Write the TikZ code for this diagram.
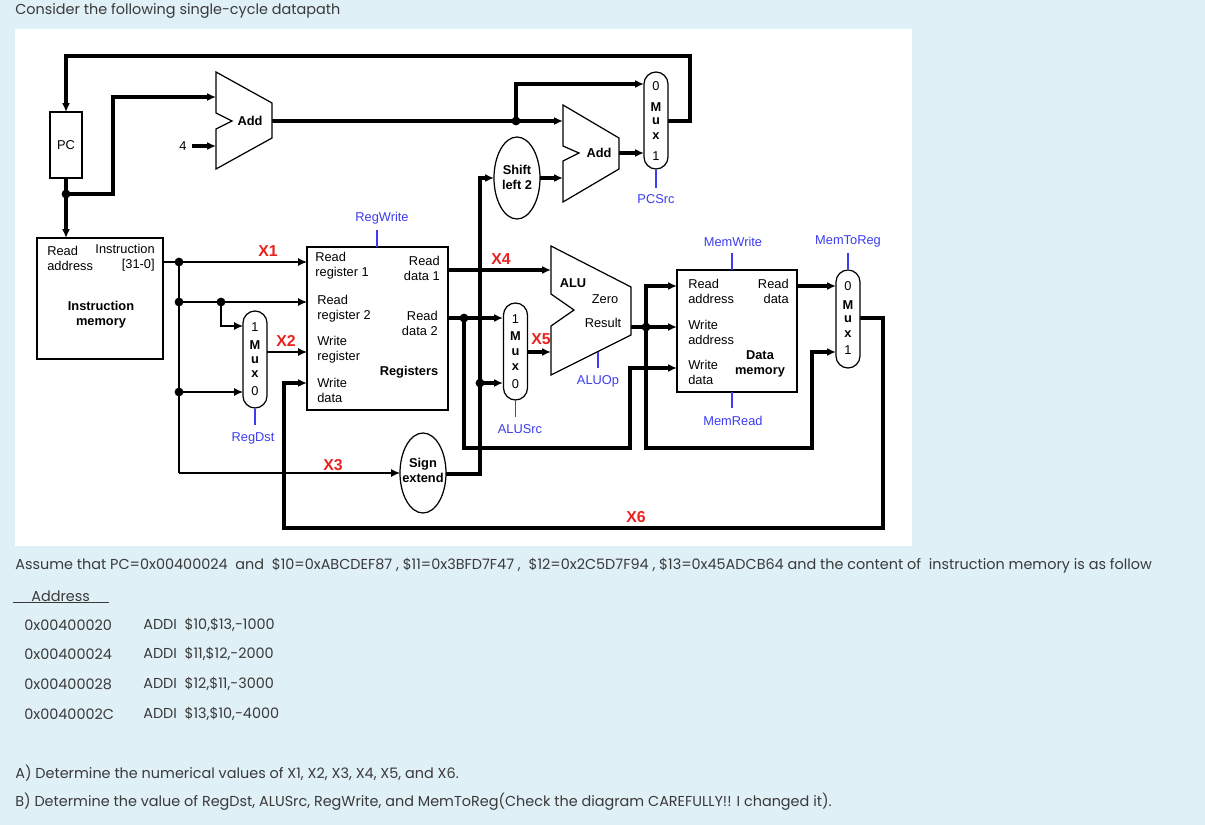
\documentclass[tikz,border=0pt]{standalone}
\usepackage{fontspec}
\setmainfont{Liberation Sans}
\newfontfamily\gothic{Poppins}
\usetikzlibrary{arrows.meta,shapes.geometric}
\definecolor{bgblue}{HTML}{E0F0F7}
\definecolor{ctrl}{HTML}{3C3CF0}
\definecolor{xred}{HTML}{E8221E}
\definecolor{txt}{HTML}{3A3A3A}
\begin{document}
\begin{tikzpicture}[x=0.02cm,y=-0.02cm,
  every node/.style={font=\fontsize{7.3}{8.6}\selectfont,inner sep=0pt},
  box/.style={draw,line width=0.7pt,fill=white},
  mux/.style={draw,line width=0.7pt,fill=white,rounded corners=0.24cm,minimum width=0.48cm},
  oval/.style={draw,line width=0.7pt,ellipse,fill=white,minimum width=0.92cm},
  bus/.style={line width=1.8pt},
  wire/.style={line width=0.7pt},
  arr/.style={-{Latex[length=5pt,width=4.5pt]}},
  cl/.style={ctrl,line width=0.6pt},
  clab/.style={text=ctrl},
  xl/.style={text=xred,font=\fontsize{9}{10}\selectfont\bfseries},
  dot/.style={circle,fill=black,minimum size=5pt},
  bt/.style={font=\fontsize{7.3}{8.6}\selectfont\bfseries},
  gt/.style={text=txt,font=\gothic\fontsize{8.2}{10}\selectfont,anchor=west}]
\fill[bgblue] (0,0) rectangle (1205,825);
\useasboundingbox (0,0) rectangle (1205,825);
\fill[white] (15,29) rectangle (912,546);

% ---- wires (drawn first) ----
% top loop from PC mux
\draw[bus,arr] (668,121) -- (690,121) -- (690,56) -- (66,56) -- (66,112);
\draw[bus] (66,178) -- (66,194);
\draw[bus,arr] (66,194) -- (66,238);
\draw[bus,arr] (66,194) -- (113,194) -- (113,97) -- (216,97);
\draw[bus,arr] (192,146) -- (216,146);
\draw[bus,arr] (272,121) -- (563,121);
\draw[bus,arr] (516,121) -- (516,84) -- (644,84);
\draw[bus,arr] (619,153) -- (644,153);
\draw[bus,arr] (540,178) -- (563,178);
% instruction fields
\draw[wire,arr] (163,262) -- (307,262);
\draw[wire] (179,262) -- (179,473);
\draw[wire,arr] (179,302) -- (307,302);
\draw[wire,arr] (221,302) -- (221,326) -- (243,326);
\draw[wire,arr] (179,392) -- (243,392);
\draw[wire,arr] (267,352) -- (307,352);
\draw[wire,arr] (179,473) -- (400,473);
% register outputs
\draw[bus,arr] (448,270) -- (551,270);
\draw[bus,arr] (448,318) -- (503,318);
\draw[bus,arr] (464,318) -- (464,448) -- (630,448) -- (630,368) -- (677,368);
% sign extend
\draw[bus,arr] (446,474) -- (480,474) -- (480,178) -- (494,178);
\draw[bus,arr] (480,383) -- (503,383);
\draw[bus,arr] (528,352) -- (551,352);
% ALU result
\draw[bus,arr] (631,327) -- (677,327);
\draw[bus,arr] (646,448) -- (646,286) -- (677,286);
\draw[bus,arr] (646,327) -- (646,448) -- (812,448) -- (812,352) -- (836,352);
\draw[bus,arr] (797,286) -- (836,286);
\draw[bus,arr] (860,318) -- (883,318) -- (883,528) -- (284,528) -- (284,383) -- (307,383);

% junction dots
\foreach \p in {(66,194),(516,121),(179,262),(179,302),(221,302),(179,392),(464,318),(480,383),(646,327)}
  \node[dot] at \p {};

% ---- components ----
\node[box,minimum width=0.64cm,minimum height=1.32cm] (pc) at (66,145) {PC};
\node[box,minimum width=2.52cm,minimum height=2.42cm] (im) at (100,298.5) {};
\node[box,minimum width=2.82cm,minimum height=3.26cm] (reg) at (377.5,328.5) {};
\node[box,minimum width=2.40cm,minimum height=2.44cm] (dm) at (737,331) {};
\node[mux,minimum height=1.94cm] (muxrd) at (255,359.5) {};
\node[mux,minimum height=1.94cm] (muxalu) at (515.5,351.5) {};
\node[mux,minimum height=1.94cm] (muxpc) at (656,120.5) {};
\node[mux,minimum height=1.96cm] (muxmr) at (848,319) {};
\node[oval,minimum height=1.64cm] (sl2) at (517,178) {};
\node[oval,minimum height=1.60cm] (se) at (423,473) {};
\node[bt,align=center] at (517,177) {Shift\\left 2};
\node[bt,align=center] at (423,470) {Sign\\extend};

% adders and ALU
\draw[line width=0.7pt,fill=white] (216,72) -- (272,103) -- (272,138) -- (216,169) -- (216,129) -- (232,121) -- (216,113) -- cycle;
\node[bt] (add1) at (250,121) {Add};
\draw[line width=0.7pt,fill=white] (563,105) -- (619,138) -- (619,169) -- (563,202) -- (563,161) -- (579,153) -- (563,146) -- cycle;
\node[bt] (add2) at (599,153) {Add};
\draw[line width=0.7pt,fill=white] (551,246) -- (631,287) -- (631,335) -- (551,375) -- (551,326) -- (574,310) -- (551,294) -- cycle;
\node[bt] (alu) at (573,283) {ALU};
\node at (605,299) {Zero};
\node at (603,323) {Result};
\node at (183,146) {4};

% mux labels
\foreach \x/\a/\b/\c/\d/\e/\t/\bo in {255/327/345/360/374/391/1/0, 515.5/319/336/352/367/384/1/0, 656/86/107/121/136/156/0/1, 848/286/305/319/334/350/0/1}{
  \node at (\x,\a) {\t};
  \node[bt] at (\x,\b) {M};
  \node[bt] at (\x,\c) {u};
  \node[bt] at (\x,\d) {x};
  \node at (\x,\e) {\bo};
}

% texts in boxes
\node[anchor=west,align=left] at (47,258) {Read\\address};
\node[anchor=east,align=right] at (155,258) {Instruction\\{[31-0]}};
\node[bt,align=center] at (101,315) {Instruction\\memory};
\node[anchor=west,align=left] at (315,266) {Read\\register 1};
\node[anchor=east,align=right] at (440,268) {Read\\data 1};
\node[anchor=west,align=left] at (317,309) {Read\\register 2};
\node[anchor=east,align=right] at (438,323) {Read\\data 2};
\node[anchor=west,align=left] at (317,350) {Write\\register};
\node[anchor=west,align=left] at (317,390) {Write\\data};
\node[bt] at (409,372) {Registers};
\node[anchor=west,align=left] at (688,291) {Read\\address};
\node[anchor=east,align=right] at (789,291) {Read\\data};
\node[anchor=west,align=left] at (688,332) {Write\\address};
\node[anchor=west,align=left] at (688,372) {Write\\data};
\node[bt,align=center] at (760,364) {Data\\memory};

% control signals
\draw[cl] (muxrd.south) -- (255,425);
\node[clab] at (253,438) {RegDst};
\draw[cl] (377,230) -- (377,247);
\node[clab] at (382,218) {RegWrite};
\draw[cl] (muxalu.south) -- (515.5,417);
\node[clab] at (520,429) {ALUSrc};
\draw[cl] (598,352) -- (598,368);
\node[clab] at (598,381) {ALUOp};
\draw[cl] (muxpc.south) -- (656,188);
\node[clab] at (656,199) {PCSrc};
\draw[cl] (732,253) -- (732,270);
\node[clab] at (733,242) {MemWrite};
\draw[cl] (732,392) -- (732,408);
\node[clab] at (733,421) {MemRead};
\draw[cl] (848,253) -- (muxmr.north);
\node[clab] at (848,241) {MemToReg};

% red labels
\node[xl] at (268,251) {X1};
\node[xl] at (286,341) {X2};
\node[xl] at (333,465) {X3};
\node[xl] at (501,259) {X4};
\node[xl] at (541,339) {X5};
\node[xl] at (636,517) {X6};

% surrounding text
\node[gt] at (15,11) {Consider the following single-cycle datapath};
\node[gt] at (15,566) {Assume that PC=0x00400024\ \ and\ \ \$10=0xABCDEF87 , \$11=0x3BFD7F47 ,\ \ \$12=0x2C5D7F94 , \$13=0x45ADCB64 and the content of\ \ instruction memory is as follow};
\node[gt] (addr) at (31,596) {Address};
\draw[txt,line width=0.5pt] (13,602) -- (109,602);
\foreach \y/\a/\i in {625/0x00400020/{ADDI\ \ \$10,\$13,-1000},654/0x00400024/{ADDI\ \ \$11,\$12,-2000},684/0x00400028/{ADDI\ \ \$12,\$11,-3000},714/0x0040002C/{ADDI\ \ \$13,\$10,-4000}}{
  \node[gt] at (24,\y) {\a};
  \node[gt] at (143,\y) {\i};
}
\node[gt] at (15,773) {A) Determine the numerical values of X1, X2, X3, X4, X5, and X6.};
\node[gt] at (15,802) {B) Determine the value of RegDst, ALUSrc, RegWrite, and MemToReg(Check the diagram CAREFULLY!! I changed it).};
\end{tikzpicture}
\end{document}
